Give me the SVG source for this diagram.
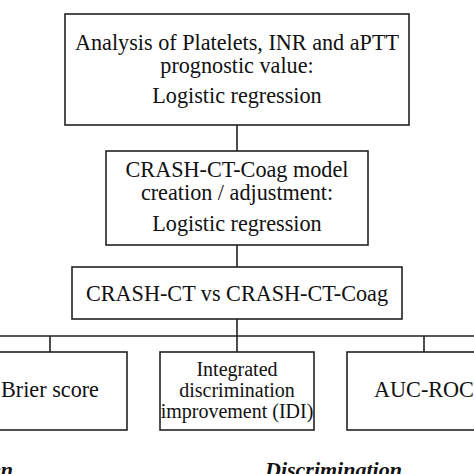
<svg xmlns="http://www.w3.org/2000/svg" width="474" height="474" viewBox="0 0 474 474">
<style>
.box{fill:#fff;stroke:#222;stroke-width:1.6}
.t{font-family:"Liberation Serif","Times New Roman",serif;font-size:22.2px;fill:#111;text-anchor:middle}
.s{font-size:20px}
.lbl{font-family:"Liberation Serif","Times New Roman",serif;font-size:22px;font-weight:bold;font-style:italic;fill:#111}
.c{stroke:#222;stroke-width:1.6;fill:none}
</style>
<rect width="474" height="474" fill="#fff"/>
<g id="connectors">
<line class="c" x1="237" y1="125" x2="237" y2="151"/>
<line class="c" x1="237" y1="245" x2="237" y2="267"/>
<line class="c" x1="237" y1="319" x2="237" y2="352"/>
<line class="c" x1="0" y1="336" x2="474" y2="336"/>
<line class="c" x1="50" y1="336" x2="50" y2="352"/>
<line class="c" x1="424" y1="336" x2="424" y2="352"/>
</g>
<g id="n1">
<rect class="box" x="65" y="14" width="344" height="111"/>
<text class="t" x="237" y="50">Analysis of Platelets, INR and aPTT</text>
<text class="t" x="237" y="73">prognostic value:</text>
<text class="t" x="237" y="103">Logistic regression</text>
</g>
<g id="n2">
<rect class="box" x="106" y="151" width="262" height="94"/>
<text class="t" x="237" y="177">CRASH-CT-Coag model</text>
<text class="t" x="237" y="200">creation / adjustment:</text>
<text class="t" x="237" y="231">Logistic regression</text>
</g>
<g id="n3">
<rect class="box" x="72" y="267" width="330" height="52"/>
<text class="t" x="237" y="301">CRASH-CT vs CRASH-CT-Coag</text>
</g>
<g id="n4">
<rect class="box" x="-27" y="352" width="154" height="78"/>
<text class="t" x="50" y="397">Brier score</text>
</g>
<g id="n5">
<rect class="box" x="160" y="352" width="154" height="78"/>
<text class="t s" x="237" y="376">Integrated</text>
<text class="t s" x="237" y="397">discrimination</text>
<text class="t s" x="237" y="418">improvement (IDI)</text>
</g>
<g id="n6">
<rect class="box" x="347" y="352" width="154" height="78"/>
<text class="t" x="424" y="397">AUC-ROC</text>
</g>
<text class="lbl" x="-9" y="477">en</text>
<text class="lbl" x="265" y="477">Discrimination</text>
</svg>
